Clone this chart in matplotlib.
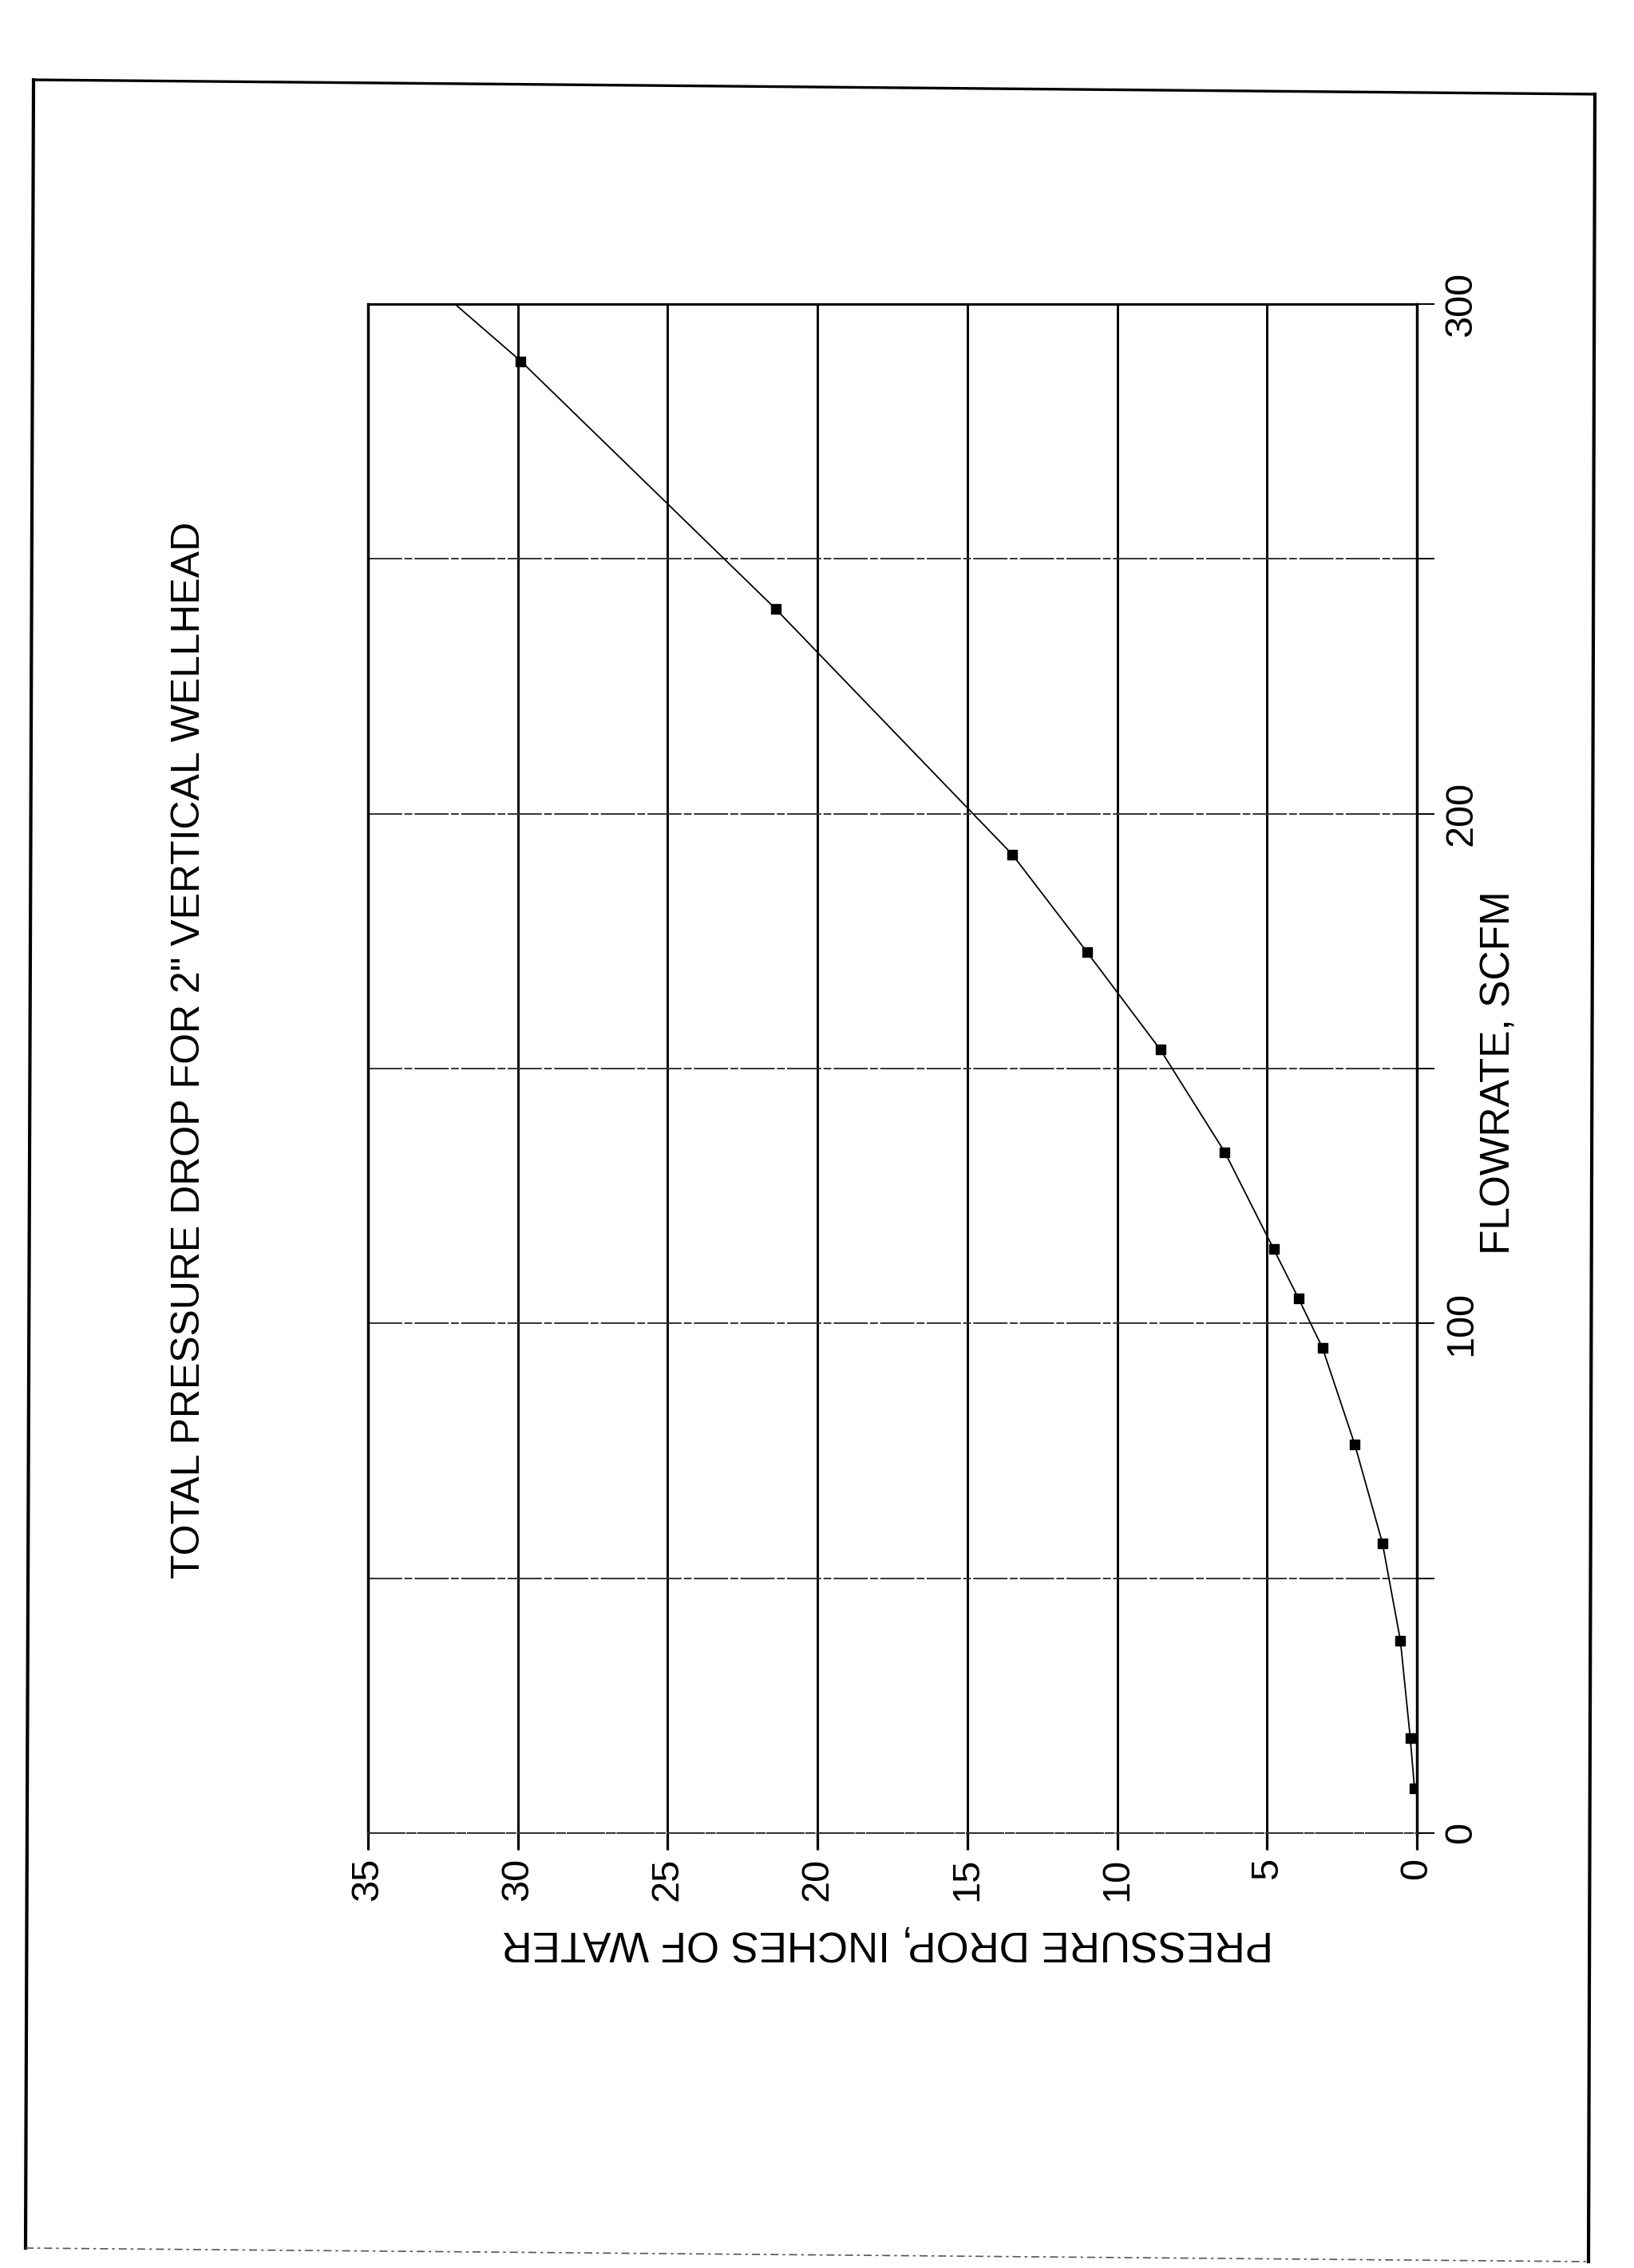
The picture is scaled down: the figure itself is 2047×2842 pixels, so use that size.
import matplotlib
matplotlib.use("Agg")
import matplotlib.pyplot as plt
from matplotlib.lines import Line2D

plt.rcParams['font.family'] = ['Liberation Sans', 'DejaVu Sans']

# ---- data ----
flowrate_scfm = [8.8, 18.6, 37.8, 56.9, 76.2, 95.2, 104.9, 114.6, 133.6, 153.7, 172.8, 192.0, 240.2, 288.8]
pressure_drop = [0.08, 0.22, 0.55, 1.15, 2.07, 3.15, 3.95, 4.78, 6.41, 8.56, 11.0, 13.5, 21.4, 29.9]
# fitted curve continues to the top of the plot
curve_flow = flowrate_scfm + [300.0]
curve_pressure = pressure_drop + [32.1]

pressure_ticks = [0, 5, 10, 15, 20, 25, 30, 35]
flow_ticks = [0, 100, 200, 300]
flow_minor = [50, 150, 250]

title = 'TOTAL PRESSURE DROP FOR 2" VERTICAL WELLHEAD'
xlabel = 'FLOWRATE, SCFM'
ylabel = 'PRESSURE DROP, INCHES OF WATER'

W, H = 2047, 2842
fig = plt.figure(figsize=(W / 100, H / 100), dpi=100)
fig.patch.set_facecolor('white')

def fx(px):
    return px / W

def fy(py):
    return 1 - py / H

left_px, right_px, top_px, bot_px = 461, 1775, 381, 2297
ax = fig.add_axes([fx(left_px), fy(bot_px), fx(right_px - left_px), (bot_px - top_px) / H])

ax.plot(curve_pressure, curve_flow, color='black', lw=1.3, zorder=3, clip_on=True)
ax.plot(pressure_drop, flowrate_scfm, linestyle='none', marker='s', ms=8.5,
        color='black', zorder=4)

ax.set_xlim(35, 0)
ax.set_ylim(0, 300)

grid_dash = (0, (22, 1.5, 5, 1.5))
# vertical grid lines (pressure)
for p in pressure_ticks[1:-1]:
    ax.axvline(p, color='black', lw=2.1, zorder=1)
# horizontal grid lines (flowrate)
for f in flow_minor + flow_ticks[1:3]:
    ax.axhline(f, color='#333333', lw=1.4, linestyle=grid_dash, zorder=1)

# spines
for s in ['left', 'right']:
    ax.spines[s].set_linewidth(2.5)
    ax.spines[s].set_color('black')
ax.spines['top'].set_linewidth(2.2)
ax.spines['top'].set_color('black')
ax.spines['bottom'].set_linewidth(1.5)
ax.spines['bottom'].set_color('#333333')
ax.spines['bottom'].set_linestyle(grid_dash)

# pressure ticks (bottom)
ax.set_xticks(pressure_ticks)
ax.set_xticklabels([str(p) for p in pressure_ticks], rotation=90, fontsize=35)
ax.tick_params(axis='x', which='major', direction='out', length=15, width=2.3,
               pad=7, bottom=True, top=False, colors='black')

# flowrate ticks (right)
ax.yaxis.tick_right()
ax.set_yticks(flow_ticks)
ax.set_yticks(flow_minor, minor=True)
ax.set_yticklabels([str(f) for f in flow_ticks], rotation=90, fontsize=35, va='center')
ax.tick_params(axis='y', which='both', direction='out', length=16, width=1.4,
               pad=8, right=True, left=False, colors='black')
ax.tick_params(axis='y', which='minor', labelright=False)

# texts
fig.text(fx(237), fy(1316), title, rotation=90, ha='center', va='center', fontsize=36)
fig.text(fx(1878), fy(1344), xlabel, rotation=90, ha='center', va='center', fontsize=37)
fig.text(fx(1112), fy(2434), ylabel, rotation=180, ha='center', va='center', fontsize=38)

# page border
fig.add_artist(Line2D([fx(42), fx(1998)], [fy(100), fy(118)], color='black', lw=2.4))
fig.add_artist(Line2D([fx(42), fx(32)], [fy(100), fy(2817)], color='black', lw=3.0))
fig.add_artist(Line2D([fx(1998), fx(1990)], [fy(118), fy(2834)], color='black', lw=3.0))
fig.add_artist(Line2D([fx(32), fx(1990)], [fy(2817), fy(2834)], color='#555555', lw=1.2,
                      linestyle=(0, (6, 3, 2, 3))))

fig.savefig('out.png', dpi=100, facecolor='white')
